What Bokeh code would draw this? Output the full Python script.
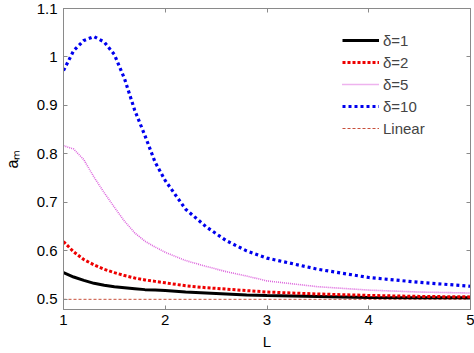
import numpy as np
from bokeh.plotting import figure
from bokeh.models import (Range1d, FixedTicker, LinearAxis, Legend, LegendItem)
from bokeh.embed import file_html
from bokeh.resources import INLINE

# ---- data ----
L = [1.0, 1.1, 1.2, 1.3, 1.4, 1.5, 1.6, 1.7, 1.8, 1.9, 2.0,
     2.2, 2.4, 2.6, 2.8, 3.0, 3.5, 4.0, 4.5, 5.0]
am_d1 = [0.555, 0.546, 0.539, 0.533, 0.529, 0.526, 0.524, 0.522, 0.520, 0.519, 0.518,
         0.515, 0.513, 0.511, 0.509, 0.508, 0.506, 0.504, 0.503, 0.503]
am_d2 = [0.619, 0.598, 0.582, 0.571, 0.562, 0.555, 0.549, 0.544, 0.540, 0.537, 0.534,
         0.528, 0.524, 0.521, 0.518, 0.515, 0.511, 0.508, 0.506, 0.505]
am_d5 = [0.817, 0.810, 0.788, 0.752, 0.720, 0.690, 0.661, 0.637, 0.620, 0.608, 0.597,
         0.580, 0.568, 0.557, 0.548, 0.538, 0.526, 0.519, 0.515, 0.513]
am_d10 = [0.972, 1.013, 1.034, 1.042, 1.031, 1.005, 0.955, 0.890, 0.838, 0.783, 0.745,
          0.686, 0.650, 0.621, 0.600, 0.585, 0.562, 0.545, 0.535, 0.527]
L_linear = [1.0, 5.0]
am_linear = [0.5, 0.5]

series_labels = ["δ=1", "δ=2", "δ=5", "δ=10", "Linear"]
x_ticks = [1, 2, 3, 4, 5]
y_ticks = [0.5, 0.6, 0.7, 0.8, 0.9, 1.0, 1.1]
y_tick_labels = ["0.5", "0.6", "0.7", "0.8", "0.9", "1", "1.1"]
x_label = "L"
y_label = "a\u2098"

FONT = "Liberation Sans"
GRAY = "#8a8a8a"

p = figure(width=474, height=353, output_backend="svg", toolbar_location=None,
           x_range=Range1d(1, 5), y_range=Range1d(0.479, 1.1))
p.min_border_left = 61
p.min_border_right = 4
p.min_border_top = 8
p.min_border_bottom = 44
p.background_fill_color = "white"
p.border_fill_color = "white"
p.outline_line_color = GRAY
p.xgrid.visible = False
p.ygrid.visible = False

def style_axis(ax, labels=True):
    ax.axis_line_color = GRAY
    ax.major_tick_line_color = GRAY
    ax.major_tick_in = 4
    ax.major_tick_out = 0
    ax.minor_tick_line_color = None
    ax.major_label_text_font = FONT
    ax.major_label_text_font_size = "15px"
    ax.major_label_text_color = "black"
    if not labels:
        ax.major_label_text_font_size = "0px"
        ax.major_label_text_color = None

xa = p.xaxis[0]
xa.ticker = FixedTicker(ticks=x_ticks)
style_axis(xa)
xa.major_label_standoff = 5
xa.axis_label = x_label
xa.axis_label_text_font = FONT
xa.axis_label_text_font_size = "15px"
xa.axis_label_text_font_style = "normal"
xa.axis_label_text_color = "black"
xa.axis_label_standoff = 5

ya = p.yaxis[0]
ya.ticker = FixedTicker(ticks=y_ticks)
ya.major_label_overrides = {t: s for t, s in zip(y_ticks, y_tick_labels)}
style_axis(ya)
ya.major_label_standoff = 6
ya.axis_label = y_label
ya.axis_label_text_font = FONT
ya.axis_label_text_font_size = "16px"
ya.axis_label_text_font_style = "normal"
ya.axis_label_text_color = "black"
ya.axis_label_standoff = 13

top_ax = LinearAxis(ticker=FixedTicker(ticks=x_ticks))
style_axis(top_ax, labels=False)
p.add_layout(top_ax, "above")
right_ax = LinearAxis(ticker=FixedTicker(ticks=y_ticks))
style_axis(right_ax, labels=False)
p.add_layout(right_ax, "right")

r_lin = p.line(L_linear, am_linear, line_color="#c8503c", line_width=1, line_dash="3 2")
r1 = p.line(L, am_d1, line_color="black", line_width=3)
r2 = p.line(L, am_d2, line_color="#ee0000", line_width=3, line_dash="3 2")
r5 = p.line(L, am_d5, line_color="#dd66dd", line_width=1.6, line_dash="1 1")
r10 = p.line(L, am_d10, line_color="#0000ee", line_width=3.2, line_dash="3 3")

legend = Legend(items=[LegendItem(label=series_labels[0], renderers=[r1]),
                       LegendItem(label=series_labels[1], renderers=[r2]),
                       LegendItem(label=series_labels[2], renderers=[r5]),
                       LegendItem(label=series_labels[3], renderers=[r10]),
                       LegendItem(label=series_labels[4], renderers=[r_lin])],
                location=(279, 171))
legend.border_line_color = None
legend.background_fill_alpha = 0
legend.padding = 0
legend.margin = 0
legend.spacing = 2
legend.glyph_width = 37
legend.glyph_height = 20
legend.label_height = 20
legend.label_standoff = 4
legend.label_text_font = FONT
legend.label_text_font_size = "15px"
p.add_layout(legend, "center")

open("out.html", "w").write(file_html(p, INLINE))
